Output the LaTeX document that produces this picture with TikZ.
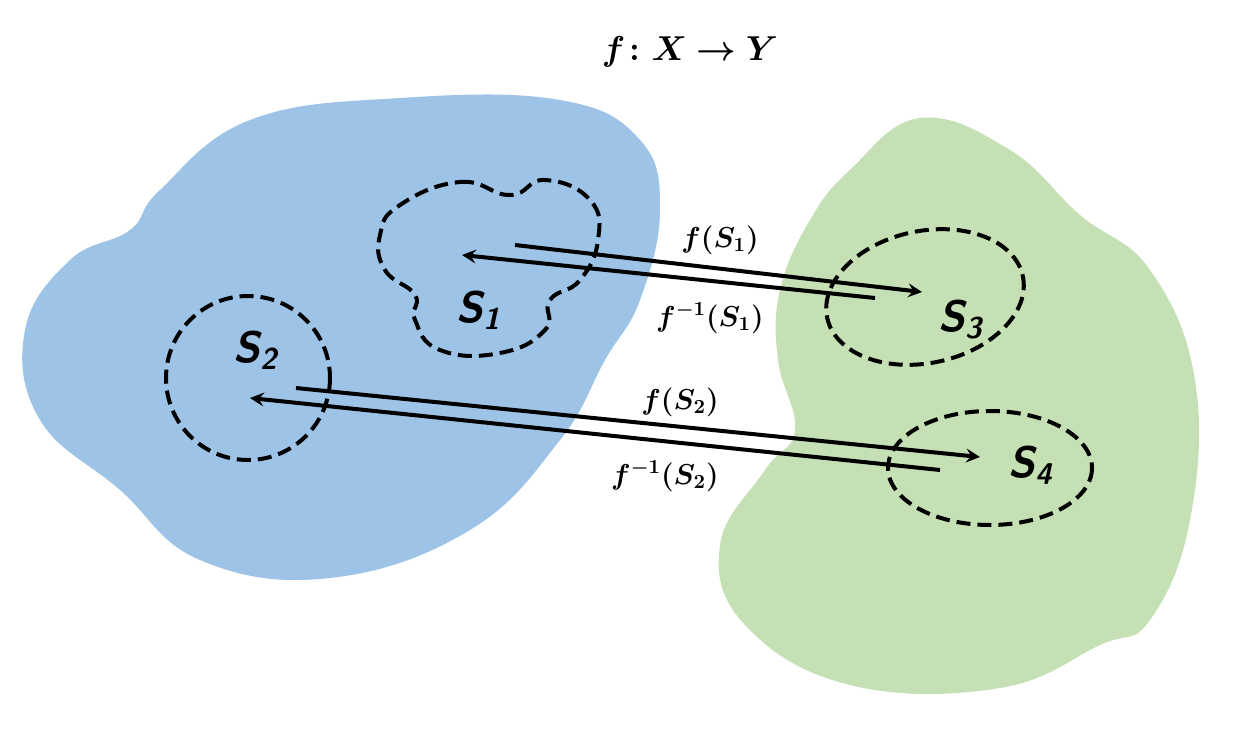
\documentclass[tikz,border=0pt]{standalone}
\usepackage{amsmath,bm}
\usetikzlibrary{positioning, calc}
\tikzset{
  setline/.style={draw, line width=2pt, dash pattern=on 7pt off 3.5pt},
  maparrow/.style={->, >=stealth, line width=2pt},
  setlabel/.style={font=\sffamily\bfseries\itshape\fontsize{22}{24}\selectfont},
  maplabel/.style={font=\fontsize{14}{16}\selectfont}
}
\begin{document}
\begin{tikzpicture}[x=0.5pt, y=-0.5pt]
  \useasboundingbox (0,0) rectangle (1248,734);
  % domain X and codomain Y
  \fill[fill={rgb,255:red,157;green,195;blue,230}] plot[smooth cycle, tension=0.7] coordinates {(160,190) (250,120) (400,98) (560,100) (640,140) (660,210) (640,300) (605,360) (560,440) (470,530) (330,578) (200,560) (120,490) (40,420) (25,330) (70,260) (130,230)};
  \fill[fill={rgb,255:red,197;green,224;blue,180}] plot[smooth cycle, tension=0.7] coordinates {(850,170) (920,118) (1010,150) (1080,215) (1150,270) (1195,380) (1190,520) (1150,620) (1100,645) (1000,688) (850,685) (745,625) (720,545) (765,470) (795,430) (778,360) (780,290) (810,220)};
  % subsets
  \draw[setline] plot[smooth cycle, tension=0.8] coordinates {(400,205) (460,182) (510,195) (545,180) (590,200) (598,240) (580,280) (550,300) (545,330) (500,353) (440,350) (415,320) (415,295) (385,270) (380,235)};
  \draw[setline] (248,378) circle[radius=82];
  \draw[setline, rotate around={12:(925,297)}] (925,297) ellipse[x radius=100, y radius=66];
  \draw[setline] (990,468) ellipse[x radius=102, y radius=57];
  \node (s1) [setlabel] at (478,310) {S\raisebox{-0.35ex}{\fontsize{15}{16}\selectfont 1}};
  \node (s2) [setlabel] at (255,350) {S\raisebox{-0.35ex}{\fontsize{15}{16}\selectfont 2}};
  \node (s3) [setlabel] at (960,320) {S\raisebox{-0.35ex}{\fontsize{15}{16}\selectfont 3}};
  \node (s4) [setlabel] at (1030,465) {S\raisebox{-0.35ex}{\fontsize{15}{16}\selectfont 4}};
  % end points of the maps
  \coordinate (a1) at (515,245);
  \coordinate (b1) at (922,292);
  \coordinate (c1) at (875,298);
  \coordinate (d1) at (462,255);
  \coordinate (a2) at (296,388);
  \coordinate (b2) at (980,457);
  \coordinate (c2) at (940,470);
  \coordinate (d2) at (250,398);
  \draw[maparrow] (a1) -- (b1);
  \draw[maparrow] (c1) -- (d1);
  \draw[maparrow] (a2) -- (b2);
  \draw[maparrow] (c2) -- (d2);
  \node (fs1) [maplabel] at (720,240) {$\bm{f(S_1)}$};
  \node (gs1) [maplabel] at (710,318) {$\bm{f^{-1}(S_1)}$};
  \node (fs2) [maplabel] at (680,402) {$\bm{f(S_2)}$};
  \node (gs2) [maplabel] at (665,476) {$\bm{f^{-1}(S_2)}$};
  \node (title) [font=\fontsize{19}{22}\selectfont] at (690,52) {$\bm{f\colon X \to Y}$};
\end{tikzpicture}
\end{document}
